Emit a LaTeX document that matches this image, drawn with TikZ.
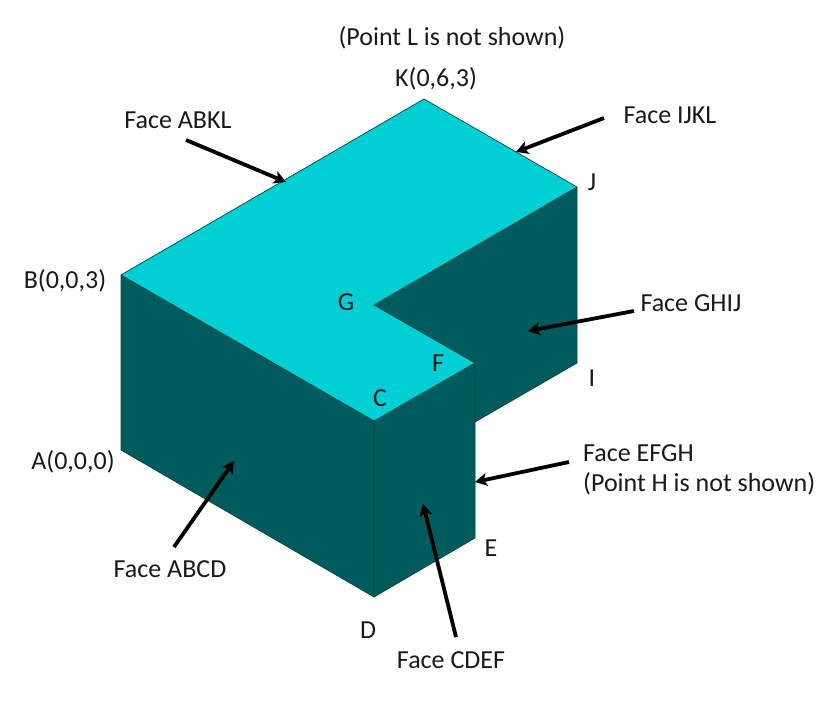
\documentclass[tikz,border=0pt]{standalone}
\usepackage{fontspec}
\setmainfont{Carlito}
\usetikzlibrary{arrows.meta}
\definecolor{topc}{HTML}{00D0D3}
\definecolor{sidec}{HTML}{005C5C}
\definecolor{edgec}{HTML}{004545}
\tikzset{
  x=1pt,y=-1pt,
  lab/.style={inner sep=0pt,font=\fontsize{26}{30}\selectfont,text=black!90},
  topface/.style={fill=topc,draw=edgec,line width=0.7pt,line join=round},
  sideface/.style={fill=sidec,draw=edgec,line width=0.7pt,line join=round},
  pointer/.style={-{Stealth[length=12pt,width=13pt,inset=3pt]},line width=3.8pt,black}
}
\begin{document}
\begin{tikzpicture}
\useasboundingbox (0,0) rectangle (828,704);
\coordinate (A) at (121,450);
\coordinate (B) at (121,275);
\coordinate (C) at (374,421);
\coordinate (D) at (374,597);
\coordinate (E) at (475,538);
\coordinate (F) at (475,363);
\coordinate (G) at (374,305);
\coordinate (I) at (577,363);
\coordinate (J) at (577,187);
\coordinate (K) at (424,99);
\coordinate (N) at (475,422);
% faces
\draw[sideface] (G) -- (J) -- (I) -- (N) -- (F) -- cycle;
\draw[sideface] (A) -- (B) -- (C) -- (D) -- cycle;
\draw[sideface] (C) -- (F) -- (E) -- (D) -- cycle;
\draw[topface] (B) -- (K) -- (J) -- (G) -- (F) -- (C) -- cycle;
% point labels
\node[lab] (tL) at (452,37.5) {(Point L is not shown)};
\node[lab] (tK) at (436,78.5) {K(0,6,3)};
\node[lab] (tJ) at (592,182.5) {J};
\node[lab] (tB) at (65,281) {B(0,0,3)};
\node[lab] (tG) at (346,302) {G};
\node[lab] (tF) at (438,363) {F};
\node[lab] (tC) at (380,398) {C};
\node[lab] (tI) at (592,378) {I};
\node[lab] (tA) at (73,462) {A(0,0,0)};
\node[lab] (tE) at (491,548) {E};
\node[lab] (tD) at (368,630) {D};
% face labels
\node[lab] (fABKL) at (178,120) {Face ABKL};
\node[lab] (fIJKL) at (670,115) {Face IJKL};
\node[lab] (fGHIJ) at (691,303) {Face GHIJ};
\node[lab,anchor=west] (fEFGH) at (583,453) {Face EFGH};
\node[lab,anchor=west] (fH) at (583,483.5) {(Point H is not shown)};
\node[lab] (fABCD) at (170,569.5) {Face ABCD};
\node[lab] (fCDEF) at (451,660.5) {Face CDEF};
% arrow ends
\coordinate (a1s) at (186,140); \coordinate (a1e) at (286,182);
\coordinate (a2s) at (604,118); \coordinate (a2e) at (516,152);
\coordinate (a3s) at (634,311); \coordinate (a3e) at (528,331);
\coordinate (a4s) at (569,462); \coordinate (a4e) at (475,482);
\coordinate (a5s) at (456,637); \coordinate (a5e) at (423,504);
\coordinate (a6s) at (174,547); \coordinate (a6e) at (234,461);
\draw[pointer] (a1s) -- (a1e);
\draw[pointer] (a2s) -- (a2e);
\draw[pointer] (a3s) -- (a3e);
\draw[pointer] (a4s) -- (a4e);
\draw[pointer] (a5s) -- (a5e);
\draw[pointer] (a6s) -- (a6e);
\end{tikzpicture}
\end{document}
